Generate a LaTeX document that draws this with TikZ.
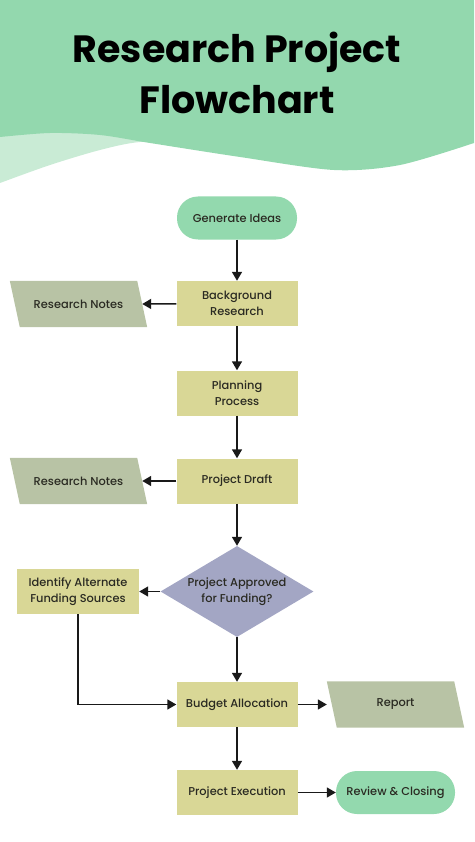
\documentclass[tikz,border=0pt]{standalone}
\usepackage{fontspec}
\setmainfont{Poppins}
\newfontfamily\nodefont{Poppins Medium}
\usetikzlibrary{arrows.meta,shapes.geometric,backgrounds}
\definecolor{hdr}{HTML}{93D8AE}
\definecolor{hdrlight}{HTML}{C9EBD5}
\definecolor{pill}{HTML}{93D9AE}
\definecolor{boxy}{HTML}{D9D796}
\definecolor{note}{HTML}{B8C3A5}
\definecolor{dia}{HTML}{A3A6C4}
\definecolor{txt}{HTML}{2A2A22}
\tikzset{
  base/.style={text=txt, font=\nodefont\fontsize{11.4}{16}\selectfont, align=center, inner sep=0pt},
  procbox/.style={base, rectangle, fill=boxy, minimum width=121pt, minimum height=45pt},
  pillbox/.style={base, rectangle, rounded corners=21pt, fill=pill, minimum width=120pt, minimum height=43pt},
  notebox/.style={base, rectangle, minimum width=127pt, minimum height=46pt},
  decbox/.style={base, diamond, fill=dia, minimum width=153pt, minimum height=91pt, aspect=1.68},
  conn/.style={line width=1.5pt, draw=black!90, -{Triangle[length=9pt,width=10pt]}}
}
\newcommand{\notefill}[1]{%
  \begin{scope}[on background layer]
    \fill[note] ([xshift=-5pt]#1.north west) -- ([xshift=-5pt]#1.north east)
      -- ([xshift=5pt]#1.south east) -- ([xshift=5pt]#1.south west) -- cycle;
  \end{scope}}
\begin{document}
\begin{tikzpicture}[x=1pt,y=-1pt]
\useasboundingbox (0,0) rectangle (474,842);
% header
\fill[hdrlight] (200,120) -- (0,120) -- (0,183) -- plot[smooth] coordinates {(0,183) (50,165) (100,150) (140,142) (200,141)} -- cycle;
\fill[hdr] (0,0) -- (474,0) -- (474,143)
  -- plot[smooth] coordinates {(474,143) (400,165) (334,170) (240,157) (150,143) (100,135) (50,133) (0,137)} -- cycle;
\node[font=\fontsize{38}{51}\selectfont\bfseries, text=black, align=center, inner sep=0pt] (title) at (237,73) {Research Project\\Flowchart};
% nodes
\node[pillbox] (gen) at (237,218) {Generate Ideas};
\node[procbox] (bg) at (237,303.5) {Background\\Research};
\node[notebox] (n1) at (78.5,304) {Research Notes};
\node[procbox] (plan) at (237,393) {Planning\\Process};
\node[procbox] (draft) at (237,481) {Project Draft};
\node[notebox] (n2) at (78.5,481) {Research Notes};
\node[decbox] (dec) at (237,591.5) {Project Approved\\for Funding?};
\node[procbox, minimum width=122pt] (alt) at (78,591.5) {Identify Alternate\\Funding Sources};
\node[procbox] (bud) at (237,704.5) {Budget Allocation};
\node[notebox] (rep) at (395.5,704.5) {Report};
\node[procbox] (exe) at (237,792.5) {Project Execution};
\node[pillbox, minimum width=119pt] (rev) at (395.5,792.5) {Review \& Closing};
\notefill{n1}
\notefill{n2}
\notefill{rep}
% connectors
\draw[conn] (gen) -- (bg);
\draw[conn] (bg) -- (n1.east);
\draw[conn] (bg) -- (plan);
\draw[conn] (plan) -- (draft);
\draw[conn] (draft) -- (n2.east);
\draw[conn] (draft) -- (dec);
\draw[conn] (dec) -- (alt);
\draw[conn] (alt.south) |- (bud.west);
\draw[conn] (dec) -- (bud);
\draw[conn] (bud) -- ([xshift=-5pt]rep.west);
\draw[conn] (bud) -- (exe);
\draw[conn] (exe) -- (rev);
\end{tikzpicture}
\end{document}
